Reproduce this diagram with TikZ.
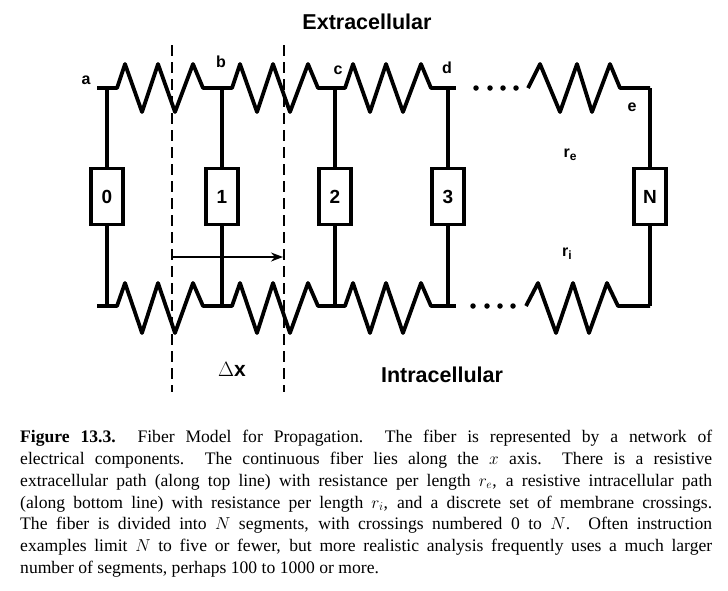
\documentclass[tikz,border=0pt]{standalone}
\usepackage{fontspec}
\usetikzlibrary{arrows.meta}
\setmainfont{Liberation Serif}
\newfontfamily\hv{Liberation Sans}
\begin{document}
\begin{tikzpicture}[x=1pt,y=-1pt,
  wire/.style={line width=3.8pt,line join=round,line cap=butt},
  box/.style={draw,line width=3.4pt,minimum width=32pt,minimum height=56pt,inner sep=0pt,font=\hv\bfseries\fontsize{19}{19}\selectfont},
  lab/.style={font=\hv\bfseries\fontsize{16}{16}\selectfont},
  big/.style={font=\hv\bfseries\fontsize{21.5}{21.5}\selectfont},
  dashd/.style={line width=1.6pt,dash pattern=on 11pt off 6pt},
  dot/.style={circle,fill,inner sep=0pt,minimum size=5.5pt}]
\useasboundingbox (0,0) rectangle (728,590);
% junction coordinates
\foreach \n/\x in {0/107,1/222,2/335,3/448}{
  \coordinate (t\n) at (\x,88);
  \coordinate (b\n) at (\x,306);
  \node[box] (m\n) at (\x,196.5) {\n};
  \draw[wire] (t\n) -- (m\n.north);
  \draw[wire] (m\n.south) -- (b\n);
}
\coordinate (tN) at (650,88); \coordinate (bN) at (650,306);
\node[box] (mN) at (650,196.5) {N};
\draw[wire] (tN) -- (mN.north); \draw[wire] (mN.south) -- (bN);
% resistors
\foreach \a/\b in {0/1,1/2,2/3}{
  \draw[wire] ([xshift=-10pt]t\a) -- ++(20,0) -- ++(8,-24) -- ++(17,48) -- ++(16,-48) -- ++(17,48) -- ++(18,-48) -- ++(10,24) -- (t\b);
  \draw[wire] ([xshift=-10pt]b\a) -- ++(20,0) -- ++(8,-23) -- ++(17,50) -- ++(16,-50) -- ++(17,50) -- ++(18,-50) -- ++(10,23) -- (b\b);
}
\draw[wire] (t3) -- ++(8,0);
\draw[wire] (b3) -- ++(8,0);
\coordinate (tr) at (528,88); \coordinate (br) at (526,306);
\draw[wire] (tr) -- ++(12,-24) -- ++(20,48) -- ++(17,-48) -- ++(15,48) -- ++(18,-48) -- ++(10,24) -- (tN);
\draw[wire] (br) -- ++(12,-23) -- ++(18,50) -- ++(17,-50) -- ++(16,50) -- ++(18,-50) -- ++(11,23) -- (bN);
\foreach \x [count=\i] in {476,490,503,516}{
  \node[dot] (dt\i) at (\x,88) {};
  \node[dot] (db\i) at (\x-3,306) {};
}
% dashed lines and arrow
\coordinate (d1a) at (172,45); \coordinate (d1b) at (172,392);
\coordinate (d2a) at (284,45); \coordinate (d2b) at (284,392);
\draw[dashd] (d1a) -- (d1b);
\draw[dashd] (d2a) -- (d2b);
\coordinate (ar1) at (172,257); \coordinate (ar2) at (283,257);
\draw[line width=1.5pt,-{Stealth[length=12pt,width=9pt]}] (ar1) -- (ar2);
% labels
\node[lab] (la) at (86,80) {a};
\node[lab] (lb) at (221,62) {b};
\node[lab] (lc) at (338,70) {c};
\node[lab] (ld) at (447,68) {d};
\node[lab] (le) at (632,107) {e};
\node[lab] (lre) at (570,155) {r\raisebox{-3pt}{\fontsize{12}{12}\selectfont e}};
\node[lab] (lri) at (567,254) {r\raisebox{-3pt}{\fontsize{12}{12}\selectfont i}};
\node[big] (ext) at (367,22) {Extracellular};
\node[big] (int) at (442,375) {Intracellular};
\node[font=\hv\fontsize{21}{21}\selectfont] (dx) at (232,369) {$\Delta$\textbf{x}};
% caption
\node[anchor=north west,inner sep=0pt,text width=692pt,align=justify,font=\fontsize{17.6}{21.8}\selectfont] (cap) at (20,430)
{\textbf{Figure 13.3.}\ \ Fiber Model for Propagation.\ \ The fiber is represented by a network of\linebreak
electrical components.\ \ The continuous fiber lies along the $x$ axis.\ \ There is a resistive\linebreak
extracellular path (along top line) with resistance per length $r_e$, a resistive intracellular path\linebreak
(along bottom line) with resistance per length $r_i$, and a discrete set of membrane crossings.\linebreak
The fiber is divided into $N$ segments, with crossings numbered 0 to $N$. Often instruction\linebreak
examples limit $N$ to five or fewer, but more realistic analysis frequently uses a much larger\linebreak
number of segments, perhaps 100 to 1000 or more.};
\end{tikzpicture}
\end{document}
